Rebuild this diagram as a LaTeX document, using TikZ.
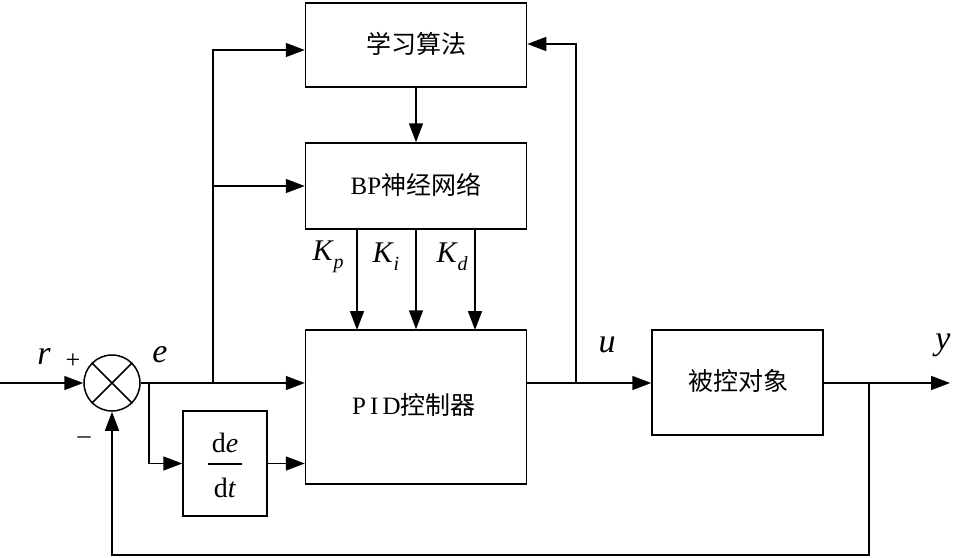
\documentclass[tikz,border=0pt]{standalone}
\usepackage{fontspec}
\setmainfont{Liberation Serif}
\newfontfamily\cjk{Noto Sans CJK SC}
\usetikzlibrary{arrows.meta}
\tikzset{
  blk/.style={draw, line width=1.5pt, inner sep=0pt},
  conn/.style={line width=1.5pt, -{Triangle[length=19pt,width=14pt]}},
  wire/.style={line width=1.5pt},
  cn/.style={font=\cjk\fontsize{25}{28}\selectfont},
  lbl/.style={font=\fontsize{34}{36}\selectfont\itshape, inner sep=0pt},
  klbl/.style={font=\fontsize{30}{32}\selectfont\itshape, inner sep=0pt},
  frac/.style={font=\fontsize{28}{30}\selectfont, inner sep=0pt}
}
\begin{document}
\begin{tikzpicture}[x=1pt,y=-1pt]
\useasboundingbox (0,0) rectangle (963,557);
% blocks
\node[blk, minimum width=221pt, minimum height=84pt] (learn) at (416,45) {};
\node[cn] at (416,44) {学习算法};
\node[blk, minimum width=221pt, minimum height=86pt] (bp) at (416,186) {};
\node[font=\fontsize{25}{28}\selectfont] at (416,185) {BP{\cjk 神经网络}};
\node[blk, minimum width=221pt, minimum height=154pt] (pid) at (416,407) {};
\node[font=\fontsize{25}{28}\selectfont] at (414,405) {P\,I\,D{\cjk 控制器}};
\node[blk, minimum width=171pt, minimum height=105pt] (plant) at (737.5,382.5) {};
\node[cn] at (738,381) {被控对象};
\node[blk, minimum width=84pt, minimum height=105pt] (der) at (225,463.5) {};
\node[frac, anchor=base] (num) at (225,452) {d\textit{e}};
\node[frac, anchor=base] (den) at (225,497) {d\textit{t}};
\draw[line width=1.5pt] (208,464) -- (242,464);
% summing junction
\node[draw, circle, line width=1.5pt, minimum size=56pt, inner sep=0pt] (sum) at (112,383) {};
\draw[wire] (sum.north west) -- (sum.south east);
\draw[wire] (sum.north east) -- (sum.south west);
% coordinates
\coordinate (rin) at (0,383);
\coordinate (b1) at (213,383);
\coordinate (b2) at (149,383);
\coordinate (bu) at (576,383);
\coordinate (by) at (869,383);
\coordinate (yout) at (950,383);
% connectors
\draw[conn] (rin) -- (sum.west);
\draw[conn] (sum.east) -- (pid.west |- sum.east);
\draw[conn] (b1) |- (learn.west |- 0,50);
\draw[conn] (b1 |- bp.west) -- (bp.west);
\draw[conn] (b2) |- (der.west);
\draw[conn] (der.east) -- (pid.west |- der.east);
\draw[conn] (learn.south) -- (bp.north);
\draw[conn] (357,228) -- (357,330);
\draw[conn] (bp.south) -- (pid.north);
\draw[conn] (475,228) -- (475,330);
\draw[conn] (pid.east |- bu) -- (plant.west |- bu);
\draw[conn] (bu) |- (learn.east |- 0,44);
\draw[conn] (plant.east |- by) -- (yout);
\draw[conn] (by) |- (112,555) -- (sum.south);
% labels
\node[lbl] at (44,356) {r};
\node[font=\fontsize{26}{28}\selectfont, inner sep=0pt] at (73,361) {+};
\node[font=\fontsize{26}{28}\selectfont, inner sep=0pt] at (84,440) {\textendash};
\node[lbl] at (160,355) {e};
\node[lbl] at (607,345) {u};
\node[lbl] at (943,345) {y};
\node[klbl] at (328,257) {K\kern1pt\raisebox{-8pt}{\fontsize{20}{22}\selectfont p}};
\node[klbl] at (386,257) {K\kern1pt\raisebox{-8pt}{\fontsize{20}{22}\selectfont i}};
\node[klbl] at (452,257) {K\kern1pt\raisebox{-8pt}{\fontsize{20}{22}\selectfont d}};
\end{tikzpicture}
\end{document}
